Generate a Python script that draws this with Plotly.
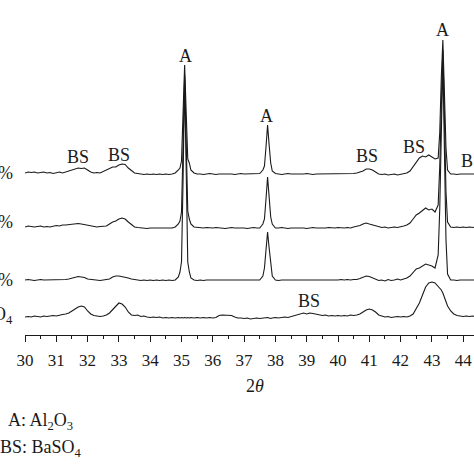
import plotly.graph_objects as go

# ----------------- data -----------------
X_2THETA = [
    30.0, 30.1, 30.2, 30.3, 30.4, 30.5, 30.6, 30.7, 30.8, 30.9,
    31.0, 31.1, 31.2, 31.3, 31.4, 31.5, 31.6, 31.7, 31.8, 31.9,
    32.0, 32.1, 32.2, 32.3, 32.4, 32.5, 32.6, 32.7, 32.8, 32.9,
    33.0, 33.1, 33.2, 33.3, 33.4, 33.5, 33.6, 33.7, 33.8, 33.9,
    34.0, 34.1, 34.2, 34.3, 34.4, 34.5, 34.6, 34.7, 34.8, 34.9,
    34.95, 35.0, 35.05, 35.1, 35.15, 35.2, 35.25, 35.3,
    35.4, 35.5, 35.6, 35.7, 35.8, 35.9,
    36.0, 36.1, 36.2, 36.3, 36.4, 36.5, 36.6, 36.7, 36.8, 36.9,
    37.0, 37.1, 37.2, 37.3, 37.4, 37.5,
    37.6, 37.65, 37.7, 37.75, 37.8, 37.85, 37.9,
    38.0, 38.1, 38.2, 38.3, 38.4, 38.5, 38.6, 38.7, 38.8, 38.9,
    39.0, 39.1, 39.2, 39.3, 39.4, 39.5, 39.6, 39.7, 39.8, 39.9,
    40.0, 40.1, 40.2, 40.3, 40.4, 40.5, 40.6, 40.7, 40.8, 40.9,
    41.0, 41.1, 41.2, 41.3, 41.4, 41.5, 41.6, 41.7, 41.8, 41.9,
    42.0, 42.1, 42.2, 42.3, 42.4, 42.5, 42.6, 42.7, 42.8, 42.9,
    43.0, 43.1,
    43.2, 43.25, 43.3, 43.35, 43.4, 43.45, 43.5,
    43.6, 43.7, 43.8, 43.9, 44.0, 44.1, 44.2, 44.3, 44.4,
]

# intensities (a.u.) of each pattern above its own baseline
INT_1 = [
    0, 1, 0.5, 1, 0, 0.5, 1, 0, 0.5, -0.5,
    0.5, 1, 0, 1, 2, 3, 4, 5, 4.5, 5,
    3, 1, 0, 0.5, 0, 1.5, 3, 4, 6, 6,
    8, 9, 8.5, 5, 2, 0, -0.5, -1, -1.5, -1,
    -1.5, -1, -1.5, -1, -1.5, -1, -1.5, -1, 0, 3,
    5, 12, 55, 108, 60, 14, 10, 3,
    0, -1, -1, -1.5, -1, -0.5,
    -1, -1.5, -1, -1, -0.5, -1, -1, -1.5, -1, -0.5,
    -1, -1, -0.5, -1, -1, -0.5,
    3, 7, 26, 48, 28, 10, 2,
    -0.5, -1, -1.5, -1, -0.5, -1, -1, -1.5, -1, -1,
    -0.5, -1, -1.5, -1, -1, -1, -0.5, -1, -1, -0.5,
    -1, -1, -1, -0.5, -1, -0.5, 0, 1, 2, 4,
    4, 3, 1, -1, -1.5, -1, -2, -1.5, -1, -2,
    -1.5, -1, 0, 2, 6, 10, 15, 17, 16, 18,
    16, 14,
    15, 40, 95, 133, 80, 25, 3,
    -1, -1, -1.5, -1, -1, -1.5, -1, -1, -1,
]
INT_2 = [
    0, 1, 0.5, 0, 0.5, 1, 0, 0.5, 0, 1,
    1.5, 1, 2, 2, 2.5, 3, 3, 3.5, 3, 2.5,
    2, 1, 0.5, 0, 0.5, 0.5, 1, 3, 5, 6,
    8, 9, 8, 5, 2, 0, -0.5, -1, -1, -1.5,
    -1, -1, -1.5, -1, -1, -1, -1.5, -1, 0, 3,
    6, 15, 80, 152, 85, 16, 8, 3,
    0, -0.5, -1, -1, -0.5, -1,
    -1, -0.5, -1, -1, -1.5, -1, -0.5, -1, -1, -0.5,
    -1, -1.5, -1, -0.5, -1, -1,
    3, 8, 28, 50, 30, 10, 3,
    -1, -1, -0.5, -1, -1.5, -1, -1, -0.5, -1, -1,
    -1.5, -1, -0.5, -1, -1, -1.5, -1, -0.5, -1, -1,
    -0.5, -1, -1, -0.5, -1, 0, 0.5, 1.5, 3, 4,
    3, 2, 1, 0, -0.5, 0, -1, -0.5, 0, -0.5,
    0, 1, 2, 4, 8, 12, 14, 17, 19, 17,
    18, 15,
    22, 60, 130, 177, 110, 35, 5,
    0, -0.5, 0, -0.5, 0, -0.5, 0, -0.5, 0,
]
INT_3 = [
    0, 0.5, 0, -0.5, 0, 0.5, 0, 0, 0.5, 0,
    0, 0.5, 0, 0.5, 1, 2, 3, 3.5, 3, 2.5,
    1, 0.5, 0, 0, -0.5, 0, 0.5, 1, 3, 4,
    4, 3.5, 3, 2, 1, 0.5, 0, -0.5, 0, -0.5,
    0, -0.5, 0, -0.5, 0, -0.5, 0, -0.5, 0, 3,
    8, 18, 100, 200, 110, 18, 8, 2,
    0, -0.5, 0, -0.5, 0, 0,
    -0.5, 0, -0.5, 0, 0, -0.5, 0, -0.5, 0, 0,
    -0.5, 0, 0, -0.5, 0, 0,
    4, 12, 30, 48, 32, 15, 4,
    0, -0.5, 0, 0, -0.5, 0, -0.5, 0, 0, -0.5,
    0, -0.5, 0, -0.5, 0, 0, -0.5, 0, 0, 0,
    0, 0.5, 0, 0.5, 0, 0.5, 0.5, 1.5, 3, 4,
    3.5, 2, 0.5, -0.5, 0, -1, 0.5, -0.5, 0, 1,
    0, 1, 2, 4, 8, 11, 12, 14, 16, 15,
    14, 12,
    25, 70, 160, 220, 130, 40, 6,
    0, 0, -0.5, 0, 0, -0.5, 0, 0, 0,
]
INT_4 = [
    0, 0.5, 0, 1, 0.5, 0, 1, 0.5, 1, 1.5,
    1, 2, 2.5, 3, 4, 6, 8, 10, 11, 10,
    6, 3, 1.5, 1, 0.5, 1, 2, 4, 7, 11,
    14, 13, 10, 5, 2, 1.5, 2, 0.5, 1, 0,
    -0.5, 0, -0.5, 0, -1, -0.5, -1, -0.5, -1, -0.5,
    -1, -0.5, -1, -0.5, -1, -0.5, -1, -0.5,
    -1, -0.5, -1, -0.5, -1, -0.5,
    -1, -0.5, 1.5, 2, 2, 2, 1.5, 0, -1, -1,
    -1.5, -1, -2, -1.5, -1, -1.5,
    -1, -1.5, -1, -0.5, -1, -1.5, -1,
    -0.5, -1, -0.5, 0, -0.5, 0.5, 1, 2, 3.5, 4,
    3, 4, 3.5, 3, 2, 1.5, 2, 1, 1.5, 1,
    1.5, 1, 1.5, 1, 2, 1.5, 2, 3, 5, 7,
    8, 7, 5, 2, 1, 0, 0.5, -0.5, 0, 0.5,
    0, 0.5, 0, 1, 3, 8, 14, 22, 30, 34,
    35, 34,
    31, 29, 27, 24, 20, 15, 11,
    6, 3, 1.5, 1, 0.5, 1, 0.5, 1, 0.5,
]

SERIES = [INT_1, INT_2, INT_3, INT_4]
SERIES_NAMES = ["20 wt.%", "10 wt.%", "5 wt.%", "BaSO<sub>4</sub>"]
STACK_OFFSETS = [162, 108, 55, 18]

# peak labels: (2theta, height, text)
PEAK_LABELS = [
    (35.14, 279, "A"), (37.73, 219, "A"), (43.35, 305, "A"),
    (31.69, 178, "BS"), (33.0, 180, "BS"), (40.93, 179, "BS"),
    (42.43, 188, "BS"), (44.27, 174, "BS"), (39.07, 34, "BS"),
]
X_TICKS = list(range(30, 45))

# ----------------- style -----------------
FONT = "Liberation Serif"
INK = "#1a1a1a"
W, H = 474, 474
ML, MT, MB = 25, 0, 139
PLOT_W, PLOT_H = W - ML, H - MT - MB


def px_x(px):
    return (px - ML) / PLOT_W


def px_y(py):
    return (MT + PLOT_H - py) / PLOT_H


fig = go.Figure()
for vals, off, name in zip(SERIES, STACK_OFFSETS, SERIES_NAMES):
    fig.add_trace(go.Scatter(
        x=X_2THETA, y=[v + off for v in vals], mode="lines", name=name,
        line=dict(color=INK, width=1.1), showlegend=False, hoverinfo="skip",
    ))

annotations = []
for x, y, text in PEAK_LABELS:
    annotations.append(dict(x=x, y=y, xref="x", yref="y", text=text, showarrow=False,
                            xanchor="center", yanchor="middle",
                            font=dict(family=FONT, size=18, color=INK)))

# sample labels at the left edge (mostly cut off by the frame)
for name, py in zip(SERIES_NAMES, [173, 222, 280, 315]):
    annotations.append(dict(x=px_x(15), y=px_y(py), xref="paper", yref="paper", text=name,
                            showarrow=False, xanchor="right", yanchor="middle",
                            font=dict(family=FONT, size=18, color=INK)))

annotations += [
    dict(x=px_x(255), y=px_y(386), xref="paper", yref="paper", text="2<i>θ</i>",
         showarrow=False, xanchor="center", yanchor="middle",
         font=dict(family=FONT, size=18, color=INK)),
    dict(x=px_x(6), y=px_y(421), xref="paper", yref="paper",
         text="A: Al<sub>2</sub>O<sub>3</sub>", showarrow=False, xanchor="left", yanchor="middle",
         font=dict(family=FONT, size=18, color=INK)),
    dict(x=px_x(-2), y=px_y(448), xref="paper", yref="paper",
         text="BS: BaSO<sub>4</sub>", showarrow=False, xanchor="left", yanchor="middle",
         font=dict(family=FONT, size=18, color=INK)),
]

fig.update_layout(
    template="none",
    width=W, height=H, margin=dict(l=ML, r=0, t=MT, b=MB, pad=0, autoexpand=False),
    paper_bgcolor="white", plot_bgcolor="white",
    font=dict(family=FONT, size=17, color=INK),
    annotations=annotations,
    xaxis=dict(range=[30, 30 + PLOT_W / 31.3], tickvals=X_TICKS, ticks="outside", ticklen=6,
               tickwidth=1, tickcolor=INK, showline=True, linecolor=INK, linewidth=1,
               showgrid=False, zeroline=False, ticklabelstandoff=4, automargin=False,
               tickfont=dict(family=FONT, size=17, color=INK),
               minor=dict(dtick=0.5, tick0=30, ticks="outside", ticklen=3, tickcolor=INK,
                          showgrid=False)),
    yaxis=dict(range=[0, PLOT_H], visible=False, fixedrange=True, automargin=False),
)

# the page body has a default 8px margin; drop it so the figure fills the window
fig.write_html("out.html", config={"displayModeBar": False},
               post_script="document.body.style.margin='0';")
